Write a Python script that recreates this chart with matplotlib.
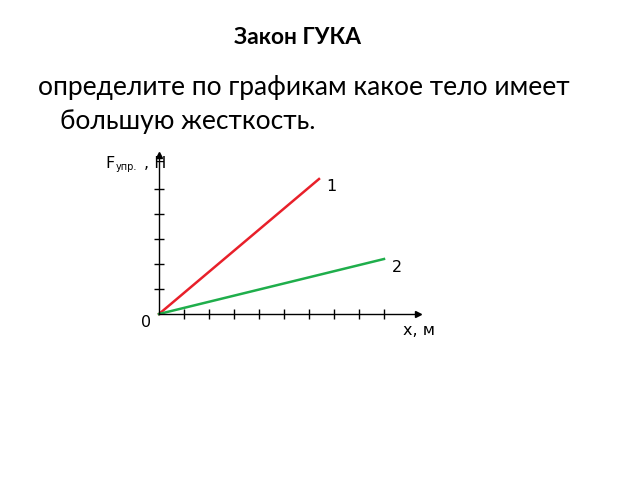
import matplotlib.pyplot as plt

# данные графиков (в делениях сетки)
x_ticks = [1, 2, 3, 4, 5, 6, 7, 8, 9]
y_ticks = [1, 2, 3, 4, 5]
line1_x = [0, 6.4]
line1_y = [0, 5.4]
line2_x = [0, 9.0]
line2_y = [0, 2.2]

title = "Закон ГУКА"
question = ["определите по графикам какое тело имеет", "большую жесткость."]

W, H = 640, 480
ox, oy, scale = 159, 314, 25  # начало координат в пикселях, пикселей на деление

fig = plt.figure(figsize=(6.4, 4.8), dpi=100)
fig.patch.set_facecolor("white")

# текст слайда
fig.text(297 / W, 1 - 38 / H, title, fontsize=16.4, fontweight="bold",
         family="Lato", ha="center", va="center")
fig.text(38 / W, 1 - 87 / H, question[0], fontsize=19, family="Lato",
         ha="left", va="center")
fig.text(60 / W, 1 - 122 / H, question[1], fontsize=19, family="Lato",
         ha="left", va="center")

# оси на всю фигуру, чтобы задать начало координат точно
ax = fig.add_axes([0, 0, 1, 1])
ax.set_xlim(-ox / scale, (W - ox) / scale)
ax.set_ylim(-(H - oy) / scale, oy / scale)
ax.patch.set_alpha(0)

for s in ("top", "right"):
    ax.spines[s].set_visible(False)
ax.spines["left"].set_position(("data", 0))
ax.spines["bottom"].set_position(("data", 0))
x_end = (418 - ox) / scale
y_end = (oy - 155) / scale
ax.spines["bottom"].set_bounds(0, x_end)
ax.spines["left"].set_bounds(0, y_end)
for s in ("left", "bottom"):
    ax.spines[s].set_color("black")
    ax.spines[s].set_linewidth(1.0)

ax.set_xticks(x_ticks)
ax.set_yticks(y_ticks)
ax.tick_params(direction="inout", length=7, width=1.0, labelbottom=False,
               labelleft=False)

# стрелки осей
ax.plot([x_end], [0], marker=">", color="black", markersize=5, clip_on=False)
ax.plot([0], [y_end], marker="^", color="black", markersize=5, clip_on=False)

ax.plot(line1_x, line1_y, color="#e8202a", linewidth=1.8)
ax.plot(line2_x, line2_y, color="#1fae4b", linewidth=1.8)

ax.text(line1_x[1] + 0.5, line1_y[1] - 0.3, "1", fontsize=11.5, ha="center", va="center")
ax.text(line2_x[1] + 0.5, line2_y[1] - 0.35, "2", fontsize=11.5, ha="center", va="center")
ax.text(-0.5, -0.35, "0", fontsize=11.5, ha="center", va="center")
ax.text(10.4, -0.65, "x, м", fontsize=11.5, ha="center", va="center")

# подпись оси F
ax.text(-2.15, 6.04, "F", fontsize=11.5, ha="left", va="center")
ax.text(-1.74, 5.86, "упр.", fontsize=7, ha="left", va="center")
ax.text(-0.62, 6.04, ", Н", fontsize=11.5, ha="left", va="center")

fig.savefig("out.png", dpi=100)
